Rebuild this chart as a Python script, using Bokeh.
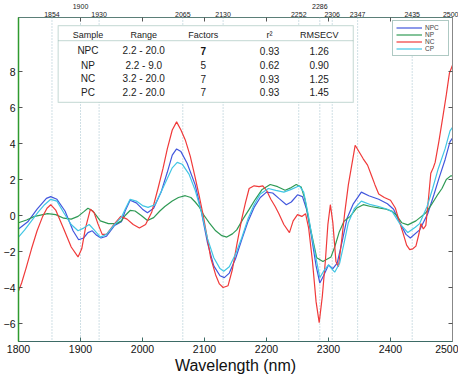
from bokeh.plotting import figure
from bokeh.models import LinearAxis, FixedTicker, Span, BoxAnnotation
from bokeh.core.properties import value
from bokeh.embed import file_html
from bokeh.resources import INLINE

# ---------------- data ----------------
npc_x = [1800, 1815, 1830, 1845, 1852, 1862, 1875, 1888, 1897, 1905, 1912, 1919, 1926, 1933, 1942, 1955,
         1966, 1972, 1980, 1990, 2000, 2008, 2018, 2030, 2040, 2048, 2055, 2062, 2072, 2085, 2095, 2105,
         2115, 2125, 2132, 2140, 2150, 2160, 2170, 2180, 2190, 2200, 2210, 2220, 2232, 2240, 2250, 2258,
         2265, 2272, 2280, 2286, 2292, 2300, 2307, 2314, 2322, 2330, 2340, 2353, 2365, 2381, 2395, 2405,
         2415, 2425, 2432, 2447, 2460, 2470, 2478, 2488, 2496, 2500]
npc_y = [-0.75, -0.35, 0.35, 0.95, 1.05, 0.9, 0.25, -0.85, -1.35, -1.25, -0.95, -0.85, -1.1, -1.25, -1.15, -0.55,
         -0.35, 0.25, 0.85, 0.7, 0.35, 0.15, 0.4, 1.3, 2.4, 3.35, 3.7, 3.55, 2.9, 1.7, 0.2, -1.55,
         -2.8, -3.35, -3.45, -3.2, -2.4, -1.35, -0.35, 0.45, 1.0, 1.3, 1.25, 0.95, 0.6, 0.75, 1.15, 1.05,
         0.3, -1.05, -2.8, -3.75, -3.35, -2.75, -2.95, -2.65, -1.45, -0.15, 0.65, 1.3, 1.1, 0.9, 0.65, 0.35,
         -0.4, -1.05, -1.25, -0.8, 0.1, 1.15, 2.05, 3.1, 4.1, 4.3]

np_x = [1800, 1813, 1826, 1847, 1860, 1873, 1885, 1896, 1905, 1912, 1920, 1932, 1945, 1958, 1966, 1972,
        1980, 1988, 1998, 2008, 2018, 2028, 2036, 2048, 2058, 2069, 2078, 2085, 2092, 2098, 2108, 2118,
        2128, 2136, 2145, 2152, 2162, 2172, 2182, 2193, 2206, 2218, 2230, 2240, 2248, 2256, 2262, 2271,
        2281, 2291, 2304, 2310, 2317, 2325, 2335, 2345, 2356, 2368, 2381, 2393, 2403, 2410, 2418, 2428,
        2441, 2450, 2457, 2466, 2475, 2483, 2490, 2497, 2500]
np_y = [-0.4, -0.25, -0.05, 0.1, 0.05, -0.15, -0.2, -0.05, 0.2, 0.4, 0.25, -0.3, -0.45, -0.45, -0.3, 0.0,
        0.28, 0.25, 0.0, -0.28, -0.12, 0.25, 0.5, 0.8, 1.0, 1.1, 1.0, 0.75, 0.45, 0.07, -0.42, -0.85,
        -1.12, -1.2, -1.02, -0.8, -0.2, 0.34, 0.9, 1.45, 1.72, 1.6, 1.4, 1.55, 1.72, 1.58, 0.9, -0.75,
        -2.35, -2.55, -2.3, -1.75, -0.95, -0.32, -0.05, 0.4, 0.6, 0.5, 0.42, 0.35, 0.23, 0.0, -0.4, -0.52,
        -0.3, -0.05, 0.15, 0.6, 1.1, 1.5, 2.0, 2.2, 2.2]

nc_x = [1800, 1805, 1812, 1821, 1830, 1839, 1846, 1852, 1860, 1873, 1885, 1896, 1902, 1908, 1916, 1922,
        1928, 1935, 1942, 1955, 1965, 1975, 1985, 1995, 2005, 2015, 2025, 2033, 2040, 2048, 2055, 2062,
        2069, 2077, 2085, 2092, 2098, 2105, 2110, 2118, 2124, 2130, 2138, 2145, 2152, 2160, 2166, 2172,
        2180, 2188, 2194, 2200, 2207, 2214, 2220, 2228, 2237, 2243, 2250, 2257, 2263, 2268, 2274, 2280,
        2285, 2290, 2295, 2299, 2303, 2307, 2312, 2316, 2321, 2326, 2332, 2337, 2343, 2350, 2356, 2363,
        2369, 2375, 2381, 2390, 2400, 2408, 2414, 2420, 2426, 2431, 2436, 2441, 2446, 2449, 2453, 2457,
        2461, 2465, 2469, 2472, 2478, 2485, 2490, 2495, 2500]
nc_y = [-4.2, -3.75, -2.95, -1.85, -0.85, -0.05, 0.4, 0.6, 0.3, -0.75, -1.75, -2.3, -1.85, -0.7, 0.35, 0.15,
        -0.45, -1.05, -1.05, -0.45, -0.05, -0.2, -0.5, -0.7, -0.5, 0.2, 1.5, 2.6, 3.7, 4.75, 5.2, 4.75,
        4.2, 3.3, 2.1, 1.0, 0.0, -1.35, -2.35, -3.3, -3.8, -4.0, -3.9, -3.0, -1.65, -0.2, 0.7, 1.5,
        1.65, 1.6, 1.65, 1.4, 0.9, 0.5, 0.1, -0.5, -0.95, -0.3, 0.05, -0.05, 0.1, -0.7, -2.5, -4.8,
        -5.95, -4.5, -2.5, -0.5, 0.6, -0.4, -2.55, -2.85, -1.45, 0.1, 1.7, 2.7, 3.9, 3.5, 3.15, 2.8,
        2.25, 1.7, 1.2, 1.0, 0.85, 0.4, -0.3, -0.95, -1.65, -1.9, -1.85, -1.7, -1.0, -0.45, -0.75, -0.55,
        0.85, 2.35, 2.65, 2.95, 4.1, 5.6, 6.7, 7.9, 8.35]

cp_x = [1800, 1810, 1821, 1832, 1842, 1852, 1862, 1873, 1885, 1896, 1905, 1914, 1922, 1932, 1942, 1955,
        1966, 1972, 1980, 1990, 2000, 2009, 2020, 2030, 2040, 2048, 2056, 2064, 2075, 2085, 2095, 2105,
        2115, 2125, 2131, 2140, 2150, 2160, 2170, 2180, 2190, 2203, 2215, 2228, 2240, 2253, 2260, 2267,
        2275, 2286, 2293, 2300, 2310, 2318, 2325, 2332, 2342, 2353, 2368, 2381, 2395, 2403, 2415, 2428,
        2440, 2447, 2459, 2468, 2477, 2488, 2496, 2500]
cp_y = [-1.2, -0.8, -0.3, 0.2, 0.6, 0.9, 0.8, 0.15, -0.5, -0.85, -0.7, -0.5, -0.8, -1.2, -1.05, -0.5,
        -0.1, 0.35, 0.9, 0.8, 0.55, 0.45, 0.6, 1.3, 2.05, 2.65, 2.95, 2.85, 2.3, 1.4, 0.2, -1.3,
        -2.35, -2.95, -3.1, -2.85, -2.15, -1.25, -0.2, 0.6, 1.2, 1.5, 1.4, 1.3, 1.45, 1.65, 1.3, 0.1,
        -1.5, -3.45, -3.05, -2.75, -3.15, -2.65, -1.55, -0.4, 0.4, 0.8, 0.6, 0.5, 0.35, 0.2, -0.45, -0.95,
        -0.65, -0.45, 0.5, 1.5, 2.6, 3.7, 4.7, 4.9]

band_low = [1854, 1930, 2065, 2130, 2252, 2306, 2347, 2435, 2500]
band_high = [1900, 2286]
x_ticks = [1800, 1900, 2000, 2100, 2200, 2300, 2400, 2500]
y_ticks = [-6, -4, -2, 0, 2, 4, 6, 8]

table_header = ["Sample", "Range", "Factors", "r\u00b2", "RMSECV"]
samples = ["NPC", "NP", "NC", "PC"]
ranges = ["2.2 - 20.0", "2.2 - 9.0", "3.2 - 20.0", "2.2 - 20.0"]
factors = ["7", "5", "7", "7"]
r2 = ["0.93", "0.62", "0.93", "0.93"]
rmsecv = ["1.26", "0.90", "1.25", "1.45"]

# table layout (data coordinates)
col_x = [1912, 2002, 2098, 2205, 2285]
header_y = 10.05
row_y = [9.15, 8.35, 7.6, 6.85]
box_l, box_r, box_t, box_b = 1864, 2340, 10.55, 6.28
header_line = 9.72

FONT = "Liberation Sans"
TEAL = "#5e9488"

p = figure(width=458, height=376, x_range=(1800, 2500), y_range=(-7, 11),
           output_backend="svg", toolbar_location=None,
           min_border_left=14, min_border_right=6, min_border_top=0, min_border_bottom=0)
p.xgrid.visible = False
p.ygrid.visible = False
p.outline_line_color = "#5b7f78"
p.background_fill_color = "white"
p.border_fill_color = "white"

# dotted band lines
for b in band_low + band_high:
    p.add_layout(Span(location=b, dimension="height", line_color="#9fbfca",
                      line_dash="1 2", line_width=1, level="underlay"))

# table box
p.add_layout(BoxAnnotation(left=box_l, right=box_r, top=box_t, bottom=box_b,
                           fill_color="white", fill_alpha=1.0, line_color=TEAL,
                           line_width=1.2, level="underlay"))
p.add_layout(BoxAnnotation(left=box_l, right=box_r, top=header_line, bottom=header_line,
                           fill_alpha=0, line_color=TEAL, line_width=1.2, level="underlay"))

# curves
p.line(npc_x, npc_y, line_color="#4257dd", line_width=1.2, legend_label="NPC")
p.line(np_x, np_y, line_color="#2f9a55", line_width=1.2, legend_label="NP")
p.line(nc_x, nc_y, line_color="#f03a3a", line_width=1.2, legend_label="NC")
p.line(cp_x, cp_y, line_color="#41c6e4", line_width=1.2, legend_label="CP")

# table texts
p.text(x=col_x, y=[header_y] * len(col_x), text=table_header, text_align="center",
       text_baseline="middle", text_font=value(FONT), text_font_size="9px", text_color="#222222")
bx, by, bt, nx, ny, nt = [], [], [], [], [], []
for i, ry in enumerate(row_y):
    vals = [samples[i], ranges[i], factors[i], r2[i], rmsecv[i]]
    for j, (cx, t) in enumerate(zip(col_x, vals)):
        if i == 0 and j == 2:
            bx.append(cx); by.append(ry); bt.append(t)
        else:
            nx.append(cx); ny.append(ry); nt.append(t)
p.text(x=nx, y=ny, text=nt, text_align="center", text_baseline="middle",
       text_font=value(FONT), text_font_size="10px", text_color="#222222")
p.text(x=bx, y=by, text=bt, text_align="center", text_baseline="middle",
       text_font=value(FONT), text_font_size="10px", text_font_style="bold", text_color="#111111")

# legend
lg = p.legend[0]
lg.location = "top_right"
lg.margin = 3
lg.padding = 3
lg.spacing = 0
lg.label_text_font = FONT
lg.label_text_font_size = "6.5px"
lg.label_height = 7
lg.glyph_height = 7
lg.glyph_width = 26
lg.label_standoff = 3
lg.border_line_color = TEAL
lg.border_line_width = 1
lg.background_fill_alpha = 1.0

# main axes
xa = p.xaxis[0]
xa.ticker = FixedTicker(ticks=x_ticks)
xa.major_tick_in = 4
xa.major_tick_out = 0
xa.minor_tick_line_color = None
xa.axis_line_color = "#3d6b66"
xa.major_tick_line_color = "#3d6b66"
xa.major_label_text_font = FONT
xa.major_label_text_font_size = "10.5px"
xa.major_label_text_color = "#111111"
xa.major_label_standoff = 3
xa.axis_label = "Wavelength (nm)"
xa.axis_label_text_font = FONT
xa.axis_label_text_font_size = "16px"
xa.axis_label_text_font_style = "normal"
xa.axis_label_text_color = "#111111"
xa.axis_label_standoff = 1

ya = p.yaxis[0]
ya.ticker = FixedTicker(ticks=y_ticks)
ya.major_tick_in = 4
ya.major_tick_out = 0
ya.minor_tick_line_color = None
ya.axis_line_color = "#2f9a2f"
ya.axis_line_width = 1.5
ya.major_tick_line_color = "#555555"
ya.major_label_text_font = FONT
ya.major_label_text_font_size = "10.5px"
ya.major_label_text_color = "#111111"
ya.major_label_standoff = 3

# right axis: ticks only (labels blanked)
ra = LinearAxis(ticker=FixedTicker(ticks=y_ticks), major_tick_in=4, major_tick_out=0,
                minor_tick_line_color=None, axis_line_color="#888888",
                major_tick_line_color="#555555",
                major_label_overrides={t: "" for t in y_ticks},
                major_label_text_font_size="1px", major_label_standoff=0)
p.add_layout(ra, "right")

# top axes: inward ticks, band labels in two rows
ta = LinearAxis(ticker=FixedTicker(ticks=x_ticks), major_tick_in=4, major_tick_out=0,
                minor_tick_line_color=None, axis_line_color=None,
                major_tick_line_color="#555555",
                major_label_overrides={t: "" for t in x_ticks},
                major_label_text_font_size="1px", major_label_standoff=0)
p.add_layout(ta, "above")
tb = LinearAxis(ticker=FixedTicker(ticks=band_low), major_tick_in=0, major_tick_out=0,
                minor_tick_line_color=None, major_tick_line_color=None, axis_line_color=None,
                major_label_text_font=FONT, major_label_text_font_size="7px",
                major_label_text_color="#222222", major_label_standoff=1)
p.add_layout(tb, "above")
tc = LinearAxis(ticker=FixedTicker(ticks=band_high), major_tick_in=0, major_tick_out=0,
                minor_tick_line_color=None, major_tick_line_color=None, axis_line_color=None,
                major_label_text_font=FONT, major_label_text_font_size="7px",
                major_label_text_color="#222222", major_label_standoff=0)
p.add_layout(tc, "above")

open("out.html", "w").write(file_html(p, INLINE))
